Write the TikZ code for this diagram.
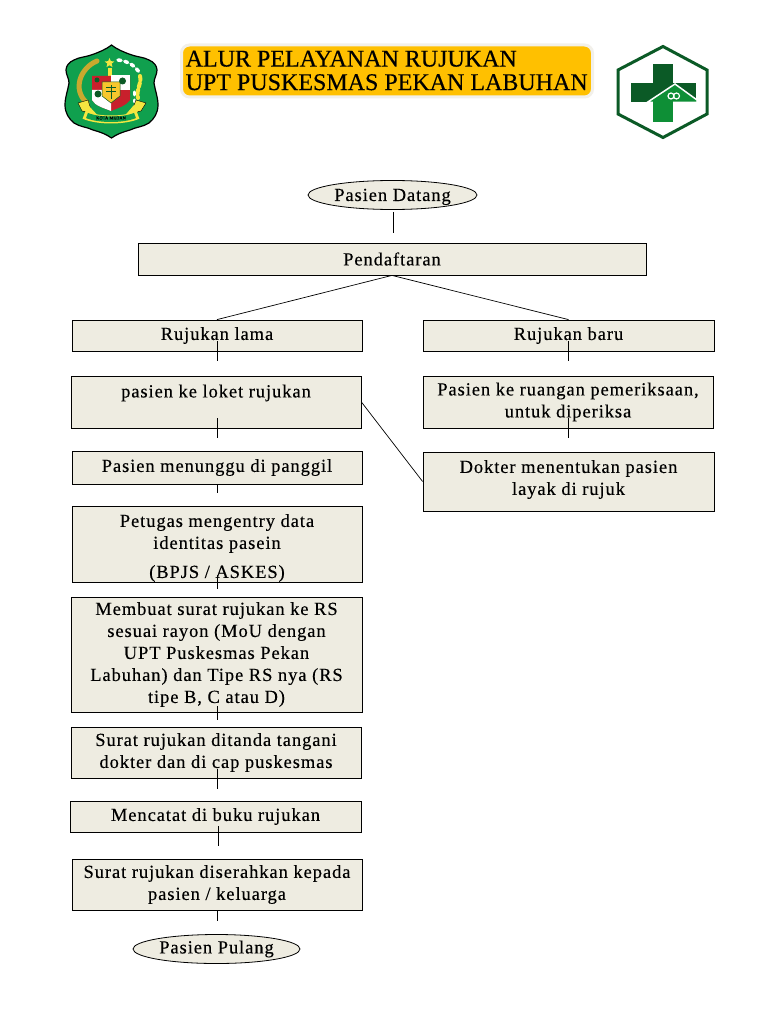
\documentclass[tikz,border=0pt]{standalone}
\usepackage{fontspec}
\setmainfont[LetterSpace=5,FakeBold=0.25]{Liberation Serif}
\newfontfamily\titlefont[FakeBold=0.3]{Liberation Serif}
\definecolor{boxfil}{HTML}{EEECE1}
\definecolor{ttlorg}{HTML}{FFC000}
\definecolor{ttlhal}{HTML}{F2F0EA}
\definecolor{logdrk}{HTML}{0B5A26}
\definecolor{logbrt}{HTML}{0E8F36}
\definecolor{shdgrn}{HTML}{10A04E}
\definecolor{shdyel}{HTML}{F4E640}
\definecolor{shdgld}{HTML}{C9A92E}
\definecolor{shdred}{HTML}{C8202C}
\usetikzlibrary{shapes.geometric, positioning}
\tikzset{
flowtext/.style={inner sep=0pt, align=center, font=\fontsize{18.5}{22}\selectfont},
flowbox/.style={flowtext, draw=black, fill=boxfil, line width=0.8pt},
flowend/.style={flowbox, ellipse},
stub/.style={draw=black, line width=0.7pt}
}
\begin{document}
\begin{tikzpicture}[x=1pt,y=-1pt]
\useasboundingbox (0,0) rectangle (768,1024);
\fill[white] (0,0) rectangle (768,1024);
\node[draw=ttlhal, line width=3pt, fill=ttlorg, rounded corners=8pt, minimum width=411pt, minimum height=52pt, inner sep=0pt] (title) at (387,71) {};
\node[anchor=west, align=left, inner sep=0pt, font=\titlefont\fontsize{24}{23.5}\selectfont] (titletxt) at (185.5,70.5) {ALUR PELAYANAN RUJUKAN\\UPT PUSKESMAS PEKAN LABUHAN};
\draw[black, line width=1.2pt, fill=shdgrn] (111.5,45) .. controls (118,50) and (124,52) .. (129,54) .. controls (136,57) and (144,57) .. (149,60) .. controls (154,62) and (157,66) .. (157,70) .. controls (157,75) and (154,78) .. (154,83) .. controls (155,90) and (158,97) .. (158,105) .. controls (158,113) and (154,119) .. (149,123) .. controls (143,127) and (136,127) .. (130,130) .. controls (123,132) and (117,134) .. (111.5,138) .. controls (106,134) and (100,132) .. (93,130) .. controls (87,127) and (80,127) .. (74,123) .. controls (69,119) and (65,113) .. (65,105) .. controls (65,97) and (68,90) .. (69,83) .. controls (69,78) and (66,75) .. (66,70) .. controls (66,66) and (69,62) .. (74,60) .. controls (79,57) and (87,57) .. (94,54) .. controls (99,52) and (105,50) .. cycle;
\draw[shdgld, line width=5pt, line cap=round] (97,61) .. controls (80,68) and (72,90) .. (87,103);
\draw[white, line width=3.5pt, line cap=round, dash pattern=on 3pt off 4pt] (118,60) .. controls (128,61) and (136,66) .. (140,74);
\draw[shdyel, line width=4pt, line cap=round, dash pattern=on 4pt off 3pt] (140,76) .. controls (142,84) and (136,88) .. (138,98);
\draw[white, line width=3pt, line cap=round, dash pattern=on 3pt off 5pt] (134,92) -- (134,102);
\node[star, star points=5, star point ratio=2.2, fill=shdyel, inner sep=0pt, minimum size=10pt] (shdstar) at (109.5,63) {};
\fill[shdyel] (108,68) rectangle (112,76);
\fill[shdred] (92,76) -- (130,76) -- (130,100) .. controls (126,106) and (118,108) .. (111,111) .. controls (104,108) and (95,106) .. (92,100) -- cycle;
\fill[white] (111,75) -- (130,75) -- (130,90) -- (111,90) -- cycle;
\fill[white] (92,90) -- (111,90) -- (111,111) .. controls (104,108) and (95,106) .. (92,100) -- cycle;
\draw[logdrk, fill=shdyel!70!orange, line width=0.5pt] (102,82) -- (120,82) -- (120,96) -- (111,103) -- (102,96) -- cycle;
\draw[logdrk, line width=1pt] (106,88) -- (116,88) (106,92) -- (116,92) (111,85) -- (111,99);
\fill[logdrk] (122.5,81) circle (3.5pt);
\fill[logdrk] (98,94) circle (3.5pt);
\fill[logdrk] (97,80) circle (2.5pt);
\fill[shdyel, draw=black, line width=0.4pt] (78,103) -- (88,100) -- (92,113) -- (82,111) -- cycle;
\fill[shdyel, draw=black, line width=0.4pt] (146,103) -- (136,100) -- (131,113) -- (141,111) -- cycle;
\fill[shdyel] (88,105) -- (102,120) -- (94,120) -- (84,110) -- cycle;
\fill[shdyel] (134,105) -- (121,120) -- (129,120) -- (139,110) -- cycle;
\draw[shdyel, line width=8pt] (84,115) .. controls (98,121) and (124,121) .. (138,115);
\draw[shdgrn, line width=5.5pt] (87,115.5) .. controls (99,120.5) and (123,120.5) .. (135,115.5);
\node[inner sep=0pt, font=\titlefont\fontsize{4.5}{4.5}\selectfont] (shdtxt) at (111,118) {KOTA MEDAN};
\draw[logdrk, line width=3pt, fill=white, line join=miter] (663,46.5) -- (707,70) -- (707,114) -- (663,137.5) -- (618,114) -- (618,70) -- cycle;
\fill[logdrk] (653,64) rectangle (673,84);
\fill[logdrk] (631,83) rectangle (696,102);
\draw[white, line width=1.5pt, fill=logbrt] (647,102.5) -- (675,84) -- (697,100) -- (697,102.5) -- cycle;
\fill[logbrt] (653,101) rectangle (673,122);
\draw[white, line width=1.2pt] (671,96) circle (3pt);
\draw[white, line width=1.2pt] (676.5,96) circle (3pt);
\node[flowend, minimum width=169pt, minimum height=29pt] (datang) at (392.5,195) {\raisebox{-2pt}[12pt][4pt]{Pasien Datang}};
\node[flowbox, minimum width=508pt, minimum height=32pt] (daftar) at (392,259) {Pendaftaran};
\node[flowbox, minimum width=290pt, minimum height=31pt] (lama) at (217,335.5) {Rujukan lama};
\node[flowbox, minimum width=291pt, minimum height=31pt] (baru) at (568.5,335.5) {Rujukan baru};
\node[flowbox, minimum width=290pt, minimum height=52pt] (loket) at (216,402) {pasien ke loket rujukan\\\mbox{}};
\node[flowbox, minimum width=290pt, minimum height=52pt] (periksa) at (568,402) {Pasien ke ruangan pemeriksaan,\\untuk diperiksa};
\node[flowbox, minimum width=290pt, minimum height=33pt] (tunggu) at (217,467.5) {Pasien menunggu di panggil};
\node[flowbox, minimum width=291pt, minimum height=59pt] (dokter) at (568.5,481.5) {};
\node[flowtext] (doktertxt) at (568.5,479.5) {Dokter menentukan pasien\\layak di rujuk};
\node[flowbox, minimum width=290pt, minimum height=76pt] (petugas) at (217,544) {};
\node[flowtext] (petugastxt) at (217,548) {Petugas mengentry data\\identitas pasein\\[7pt](BPJS / ASKES)};
\node[flowbox, minimum width=291pt, minimum height=115pt] (surat) at (216.5,654.5) {Membuat surat rujukan ke RS\\sesuai rayon (MoU dengan\\UPT Puskesmas Pekan\\Labuhan) dan Tipe RS nya (RS\\tipe B, C atau D)};
\node[flowbox, minimum width=290pt, minimum height=51pt] (ttd) at (216,752.5) {Surat rujukan ditanda tangani\\dokter dan di cap puskesmas};
\node[flowbox, minimum width=291pt, minimum height=31pt] (catat) at (215.5,816.5) {Mencatat di buku rujukan};
\node[flowbox, minimum width=290pt, minimum height=51pt] (serah) at (217,884.5) {Surat rujukan diserahkan kepada\\pasien / keluarga};
\node[flowend, minimum width=167pt, minimum height=29pt] (pulang) at (216.5,949) {Pasien Pulang};
\coordinate (datangend) at (393,233);
\coordinate (datangbeg) at (393,212);
\coordinate (lamabeg) at (217,341);
\coordinate (lamaend) at (217,361);
\coordinate (barubeg) at (568,341);
\coordinate (baruend) at (568,361);
\coordinate (loketbeg) at (217,418);
\coordinate (loketend) at (217,438);
\coordinate (periksabeg) at (568,418);
\coordinate (periksaend) at (568,438);
\coordinate (tunggubeg) at (217,484);
\coordinate (tungguend) at (217,493);
\coordinate (petugasbeg) at (217,575);
\coordinate (petugasend) at (217,589);
\coordinate (suratbeg) at (217,706);
\coordinate (suratend) at (217,720);
\coordinate (ttdbeg) at (217,769);
\coordinate (ttdend) at (217,789);
\coordinate (catatbeg) at (218,826);
\coordinate (catatend) at (218,846);
\coordinate (serahbeg) at (217,911);
\coordinate (serahend) at (217,921);
\draw[stub] (datangbeg) -- (datangend);
\draw[stub] (daftar.south) -- (lama.north);
\draw[stub] (daftar.south) -- (baru.north);
\draw[stub] (lamabeg) -- (lamaend);
\draw[stub] (barubeg) -- (baruend);
\draw[stub] (loketbeg) -- (loketend);
\draw[stub] (periksabeg) -- (periksaend);
\draw[stub] (tunggubeg) -- (tungguend);
\draw[stub] (petugasbeg) -- (petugasend);
\draw[stub] (suratbeg) -- (suratend);
\draw[stub] (ttdbeg) -- (ttdend);
\draw[stub] (catatbeg) -- (catatend);
\draw[stub] (serahbeg) -- (serahend);
\draw[stub] (loket.east) -- (dokter.west);
\end{tikzpicture}
\end{document}
